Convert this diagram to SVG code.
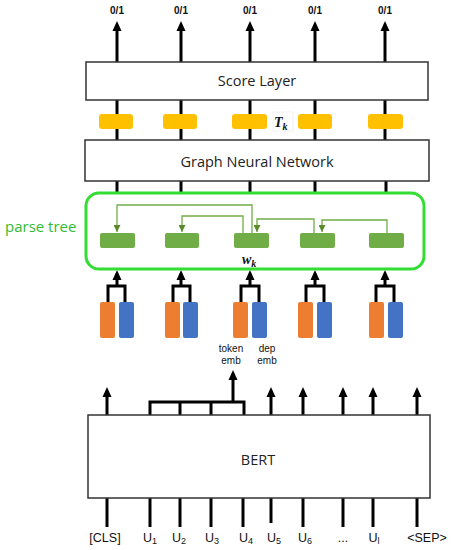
<svg xmlns="http://www.w3.org/2000/svg" width="455" height="550" viewBox="0 0 455 550">
<style>
.box{fill:#fff;stroke:#333;stroke-width:1.5}
.ln{stroke:#000;stroke-width:3;fill:none}
.ah{stroke:#000;stroke-width:3;fill:none;marker-end:url(#ah)}
.tl{stroke:#70ad47;stroke-width:1.3;fill:none;marker-end:url(#gh)}
.yel{fill:#ffc000}
.grn{fill:#70ad47}
.org{fill:#ed7d31}
.blu{fill:#4472c4}
.t1{font-family:"Liberation Sans",Arial,sans-serif;font-size:10px;fill:#111}
.t2{font-family:"Open Sans","Noto Sans",sans-serif;font-size:14.5px;fill:#222;text-anchor:middle}
.t3{font-family:"Liberation Sans",Arial,sans-serif;font-size:12.5px;fill:#111;text-anchor:middle}
.ti{font-family:"Liberation Serif",serif;font-weight:bold;font-style:italic;font-size:14px;fill:#111}
</style>
<defs>
<marker id="ah" viewBox="0 0 10 10" refX="6" refY="5" markerWidth="10" markerHeight="10" markerUnits="userSpaceOnUse" orient="auto"><path d="M0,0.5 L10,5 L0,9.5 z" fill="#000"/></marker>
<marker id="gh" viewBox="0 0 10 10" refX="10" refY="5" markerWidth="7" markerHeight="7" markerUnits="userSpaceOnUse" orient="auto"><path d="M0,0 L10,5 L0,10 z" fill="#5a8a2a"/></marker>
</defs>

<g id="connectors">
<line class="ah" x1="117" y1="62" x2="117" y2="25"/>
<line class="ah" x1="181" y1="62" x2="181" y2="25"/>
<line class="ah" x1="250" y1="62" x2="250" y2="25"/>
<line class="ah" x1="315" y1="62" x2="315" y2="25"/>
<line class="ah" x1="385" y1="62" x2="385" y2="25"/>
<line class="ln" x1="117" y1="100" x2="117" y2="140"/>
<line class="ln" x1="181" y1="100" x2="181" y2="140"/>
<line class="ln" x1="250" y1="100" x2="250" y2="140"/>
<line class="ln" x1="315" y1="100" x2="315" y2="140"/>
<line class="ln" x1="385" y1="100" x2="385" y2="140"/>
<line class="ln" x1="117" y1="181" x2="117" y2="193"/>
<line class="ln" x1="181" y1="181" x2="181" y2="193"/>
<line class="ln" x1="250" y1="181" x2="250" y2="193"/>
<line class="ln" x1="315" y1="181" x2="315" y2="193"/>
<line class="ln" x1="386" y1="181" x2="386" y2="193"/>
<path class="tl" d="M252,233 V205 H117 V232"/>
<path class="tl" d="M243,233 V216 H182 V232"/>
<path class="tl" d="M314,233 V219 H257 V232"/>
<path class="tl" d="M387,233 V220 H322 V232"/>
<path class="ln" d="M108,302 V286 H125 V302"/>
<path class="ln" d="M173,302 V286 H190 V302"/>
<path class="ln" d="M241,302 V286 H259 V302"/>
<path class="ln" d="M306,302 V286 H324 V302"/>
<path class="ln" d="M376,302 V286 H394 V302"/>
<line class="ah" x1="117" y1="287" x2="117" y2="274"/>
<line class="ah" x1="181" y1="287" x2="181" y2="274"/>
<line class="ah" x1="250" y1="287" x2="250" y2="274"/>
<line class="ah" x1="315" y1="287" x2="315" y2="274"/>
<line class="ah" x1="385" y1="287" x2="385" y2="274"/>
<line class="ah" x1="107" y1="415" x2="107" y2="391"/>
<line class="ah" x1="271" y1="415" x2="271" y2="391"/>
<line class="ah" x1="303" y1="415" x2="303" y2="391"/>
<line class="ah" x1="343" y1="415" x2="343" y2="391"/>
<line class="ah" x1="373" y1="415" x2="373" y2="391"/>
<line class="ah" x1="417" y1="415" x2="417" y2="391"/>
<path class="ln" d="M150,415 V402 H244 V415"/>
<line class="ln" x1="180" y1="402" x2="180" y2="415"/>
<line class="ln" x1="211" y1="402" x2="211" y2="415"/>
<line class="ah" x1="233" y1="403" x2="233" y2="374"/>
<line class="ln" x1="107" y1="498" x2="107" y2="527"/>
<line class="ln" x1="150" y1="498" x2="150" y2="527"/>
<line class="ln" x1="180" y1="498" x2="180" y2="527"/>
<line class="ln" x1="211" y1="498" x2="211" y2="527"/>
<line class="ln" x1="243" y1="498" x2="243" y2="527"/>
<line class="ln" x1="271" y1="498" x2="271" y2="523"/>
<line class="ln" x1="303" y1="498" x2="303" y2="527"/>
<line class="ln" x1="343" y1="498" x2="343" y2="527"/>
<line class="ln" x1="373" y1="498" x2="373" y2="527"/>
<line class="ln" x1="417" y1="498" x2="417" y2="527"/>
</g>

<g id="outputs">
<text class="t1" x="117" y="14" text-anchor="middle" font-weight="bold">0/1</text>
<text class="t1" x="181" y="14" text-anchor="middle" font-weight="bold">0/1</text>
<text class="t1" x="250" y="14" text-anchor="middle" font-weight="bold">0/1</text>
<text class="t1" x="315" y="14" text-anchor="middle" font-weight="bold">0/1</text>
<text class="t1" x="385" y="14" text-anchor="middle" font-weight="bold">0/1</text>
</g>

<g id="score-layer">
<rect class="box" x="86" y="62" width="342" height="38"/>
<text class="t2" x="257" y="86">Score Layer</text>
</g>

<g id="tk">
<rect class="yel" x="99" y="114" width="34" height="15" rx="3"/>
<rect class="yel" x="163" y="114" width="34" height="15" rx="3"/>
<rect class="yel" x="232" y="114" width="35" height="15" rx="3"/>
<rect class="yel" x="298" y="114" width="34" height="15" rx="3"/>
<rect class="yel" x="368" y="114" width="35" height="15" rx="3"/>
<rect x="273" y="112" width="20" height="19" fill="#fff" stroke="#eee" stroke-width="0.8"/>
<text class="ti" x="274" y="127">T<tspan font-size="10" dy="3">k</tspan></text>
</g>

<g id="gnn">
<rect class="box" x="85" y="140" width="344" height="41"/>
<text class="t2" x="257" y="167" font-size="16">Graph Neural Network</text>
</g>

<g id="parse-tree">
<rect x="86" y="193" width="338" height="76" rx="13" fill="none" stroke="#33dd33" stroke-width="3"/>
<text x="5" y="232" font-family="'Open Sans','Noto Sans',sans-serif" font-size="15" fill="#33bb33">parse tree</text>
<rect class="grn" x="100" y="233" width="35" height="15" rx="2"/>
<rect class="grn" x="165" y="233" width="34" height="15" rx="2"/>
<rect class="grn" x="234" y="233" width="35" height="15" rx="2"/>
<rect class="grn" x="300" y="233" width="35" height="15" rx="2"/>
<rect class="grn" x="369" y="233" width="35" height="15" rx="2"/>
<text class="ti" x="242" y="264">w<tspan font-size="10" dy="3">k</tspan></text>
</g>

<g id="embeddings">
<rect class="org" x="100" y="302" width="15" height="36" rx="2"/>
<rect class="blu" x="119" y="302" width="15" height="36" rx="2"/>
<rect class="org" x="165" y="302" width="15" height="36" rx="2"/>
<rect class="blu" x="183" y="302" width="15" height="36" rx="2"/>
<rect class="org" x="233" y="302" width="15" height="36" rx="2"/>
<rect class="blu" x="252" y="302" width="15" height="36" rx="2"/>
<rect class="org" x="298" y="302" width="15" height="36" rx="2"/>
<rect class="blu" x="317" y="302" width="15" height="36" rx="2"/>
<rect class="org" x="369" y="302" width="15" height="36" rx="2"/>
<rect class="blu" x="388" y="302" width="15" height="36" rx="2"/>
<text class="t1" x="231" y="352" text-anchor="middle" font-size="10.5">token</text>
<text class="t1" x="231" y="364" text-anchor="middle" font-size="10.5">emb</text>
<text class="t1" x="267" y="352" text-anchor="middle" font-size="10.5">dep</text>
<text class="t1" x="267" y="364" text-anchor="middle" font-size="10.5">emb</text>
</g>

<g id="bert">
<rect class="box" x="88" y="415" width="342" height="83"/>
<text class="t2" x="258" y="465" font-size="17">BERT</text>
</g>

<g id="inputs">
<text class="t3" x="105" y="542">[CLS]</text>
<text class="t3" x="150" y="542">U<tspan font-size="9" dy="2">1</tspan></text>
<text class="t3" x="179" y="542">U<tspan font-size="9" dy="2">2</tspan></text>
<text class="t3" x="212" y="542">U<tspan font-size="9" dy="2">3</tspan></text>
<text class="t3" x="246" y="542">U<tspan font-size="9" dy="2">4</tspan></text>
<text class="t3" x="274" y="542">U<tspan font-size="9" dy="2">5</tspan></text>
<text class="t3" x="305" y="542">U<tspan font-size="9" dy="2">6</tspan></text>
<text class="t3" x="343" y="542" font-size="8" fill="#666">...</text>
<text class="t3" x="374" y="542">U<tspan font-size="9" dy="2">l</tspan></text>
<text class="t3" x="427" y="542">&lt;SEP&gt;</text>
</g>
</svg>
